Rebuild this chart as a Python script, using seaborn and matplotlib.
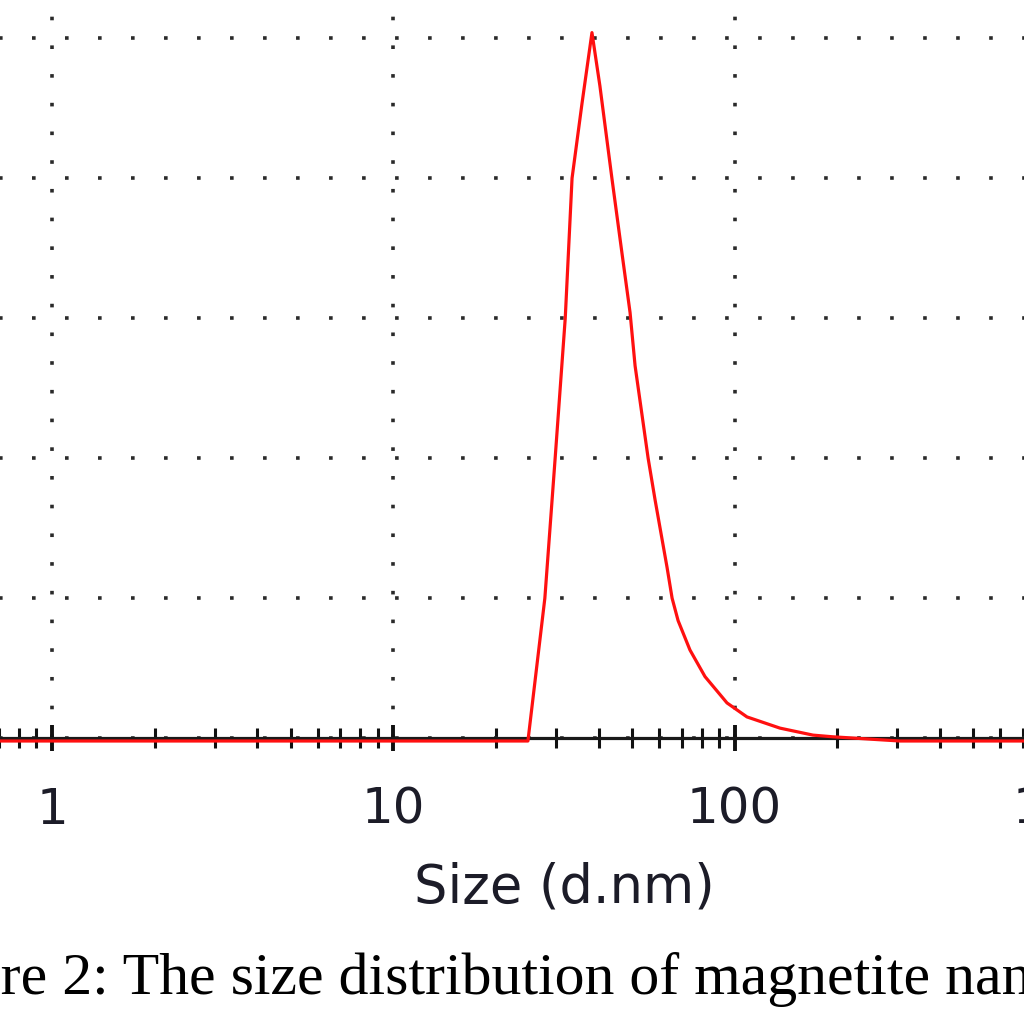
import numpy as np
import pandas as pd
import matplotlib
matplotlib.use("Agg")
import matplotlib.pyplot as plt
import seaborn as sns
from matplotlib.ticker import LogLocator, NullFormatter, FixedLocator, FixedFormatter
from matplotlib.transforms import ScaledTranslation

# ---- data ----
size_nm = [0.4, 1.0, 10.0, 21.4, 24.8, 27.8, 29.8, 31.9, 33.4, 35.7, 38.2,
           40.3, 43.7, 46.8, 49.4, 51.1, 55.8, 58.5, 63.4, 65.6, 68.3, 74.0,
           81.9, 95.0, 108.7, 135.8, 169.7, 194.0, 226.0, 262.0, 305.0,
           1000.0, 10000.0]
intensity_pct = [0, 0, 0, 0, 0, 5.1, 10.1, 15.1, 20.1, 22.75, 25.3,
                 23.4, 20.1, 17.4, 15.3, 13.4, 10.1, 8.6, 6.2, 5.1, 4.3, 3.25,
                 2.3, 1.36, 0.86, 0.46, 0.21, 0.15, 0.1, 0.05, 0,
                 0, 0]
x_tick_values = [0.1, 1, 10, 100, 1000, 10000]
x_tick_labels = ["0.1", "1", "10", "100", "1000", "10000"]
y_grid_values = [0, 5, 10, 15, 20, 25, 30]
x_label = "Size (d.nm)"
caption = "Figure 2: The size distribution of magnetite nanoparticles"
caption_hidden_left = "Figu"
caption_visible = "re 2: The size distribution of magnetite nan"

df = pd.DataFrame({"size": size_nm, "intensity": intensity_pct})

sns.set_style("white")
plt.rcParams["font.family"] = ["DejaVu Sans"]

W = 1024
fig = plt.figure(figsize=(10.24, 10.24), dpi=100)
fig.patch.set_facecolor("white")

# axes extend beyond the figure (the reference is a crop)
left_px, width_px = -289.3, 1706.5
bottom_px_from_top = 738
px_per_unit = 28.0
ymax = 30
height_px = ymax * px_per_unit
ax = fig.add_axes([left_px / W, (W - bottom_px_from_top) / W, width_px / W, height_px / W])
ax.set_xscale("log")
ax.set_xlim(0.1, 10000)
ax.set_ylim(0, ymax)

sns.lineplot(data=df, x="size", y="intensity", ax=ax, color="#ff1010",
             linewidth=2.3, estimator=None, sort=True, zorder=3)
line = ax.lines[-1]
line.set_transform(line.get_transform() + ScaledTranslation(0, -3 / 100, fig.dpi_scale_trans))
line.set_clip_on(False)
line.set_solid_joinstyle("round")

# ticks
ax.xaxis.set_major_locator(FixedLocator(x_tick_values))
ax.xaxis.set_major_formatter(FixedFormatter(x_tick_labels))
ax.xaxis.set_minor_locator(LogLocator(base=10, subs=np.arange(2, 10), numticks=100))
ax.xaxis.set_minor_formatter(NullFormatter())
ax.tick_params(axis="x", which="major", bottom=True, direction="inout", length=19,
               width=2.8, color="#111111", pad=25, labelsize=36, labelcolor="#1c1c28")
ax.tick_params(axis="x", which="minor", bottom=True, direction="inout", length=15,
               width=2.2, color="#111111")
ax.yaxis.set_major_locator(FixedLocator(y_grid_values))
ax.tick_params(axis="y", which="both", left=False, labelleft=False)

# dotted grids
ax.xaxis.grid(True, which="major", linestyle=(0, (1, 6.95)), linewidth=2.6, color="#2a2a2a")
ax.yaxis.grid(True, which="major", linestyle=(0, (1, 8.14)), linewidth=2.6, color="#2a2a2a")
ax.set_axisbelow(True)

for s in ["top", "right", "left"]:
    ax.spines[s].set_visible(False)
ax.spines["bottom"].set_linewidth(2.3)
ax.spines["bottom"].set_color("#1a1a1a")
ax.spines["bottom"].set_zorder(2.5)

ax.set_xlabel(x_label, fontsize=38, color="#1c1c28", labelpad=20)
ax.set_ylabel("")

# caption (cropped on both sides in the reference)
fig.canvas.draw()
r = fig.canvas.get_renderer()
cap_kw = dict(fontsize=43, family=["Liberation Serif", "DejaVu Serif"], color="black")
t1 = fig.text(0, 0, caption_hidden_left, **cap_kw)
w1 = t1.get_window_extent(r).width
t1.remove()
t2 = fig.text(0, 0, caption_visible, **cap_kw)
w2 = t2.get_window_extent(r).width
t2.remove()
x0 = 516 - w2 / 2 - w1
fig.text(x0 / W, 30 / W, caption, va="baseline", ha="left", **cap_kw)

fig.savefig("out.png", dpi=100)
